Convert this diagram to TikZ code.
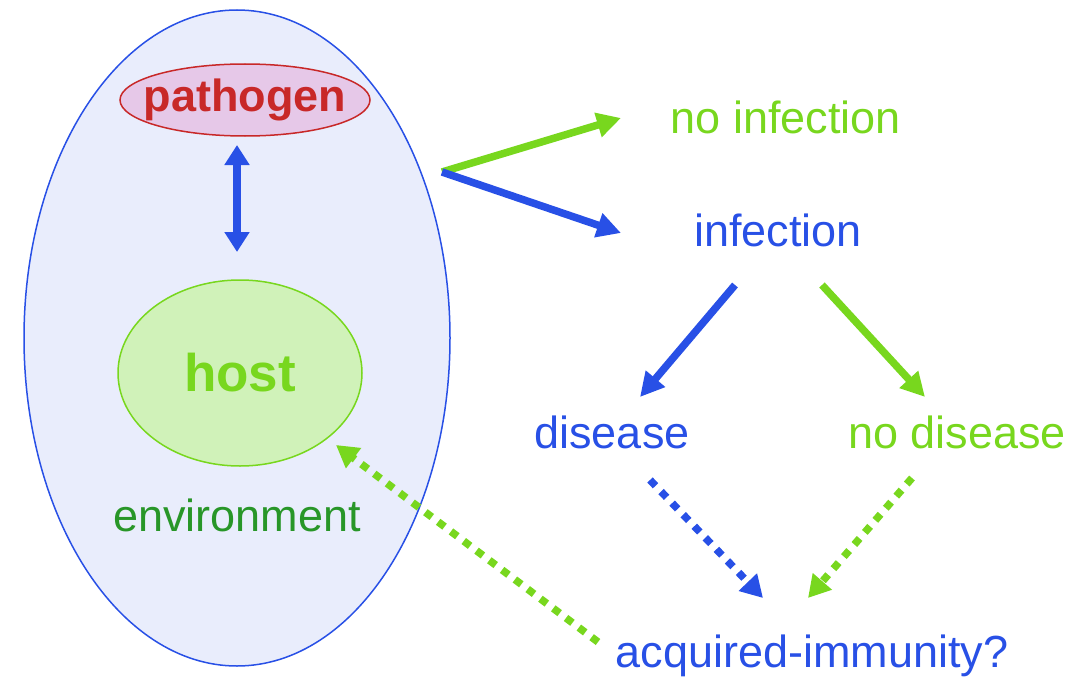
\documentclass[tikz,border=0pt]{standalone}
\usepackage{fontspec}
\setmainfont{Liberation Sans}
\usetikzlibrary{arrows.meta,shapes.geometric}
\definecolor{bl}{RGB}{40,80,230}
\definecolor{gr}{RGB}{120,215,30}
\definecolor{dg}{RGB}{40,150,40}
\definecolor{rd}{RGB}{200,40,40}
\begin{document}
\begin{tikzpicture}[x=1pt,y=-1pt,
  lbl/.style={font=\fontsize{45}{48}\selectfont},
  arr/.style={line width=7.5pt,-{Triangle[length=24pt,width=24pt]}},
  dot/.style={line width=7.5pt,dash pattern=on 8pt off 8pt,-{Triangle[length=22pt,width=24pt]}}]
\useasboundingbox (0,0) rectangle (1077,677);
\node[draw=bl,line width=1.5pt,fill=bl!10,ellipse,minimum width=426,minimum height=656,inner sep=0] (env) at (237,338) {};
\node[draw=rd,line width=1.5pt,fill={rgb,255:red,230;green,200;blue,232},ellipse,minimum width=250,minimum height=72,inner sep=0] (pat) at (245,100) {};
\node[text=rd,font=\fontsize{45}{48}\selectfont\bfseries] (patl) at (pat) {pathogen};
\node[draw=gr,line width=1.5pt,fill={rgb,255:red,208;green,242;blue,185},ellipse,minimum width=244,minimum height=186,inner sep=0] (host) at (240,373) {};
\node[text=gr,font=\fontsize{53}{56}\selectfont\bfseries] (hostl) at (host) {host};
\node[lbl,text=dg] (envl) at (237,515) {environment};
\coordinate (a1) at (237,145); \coordinate (a2) at (237,252);
\draw[line width=7.5pt,{Triangle[length=20pt,width=24pt]}-{Triangle[length=20pt,width=24pt]},bl] (a1) -- (a2);
\node[lbl,text=gr] (noinf) at (786,117) {no infection};
\node[lbl,text=bl] (inf) at (778,230) {infection};
\node[lbl,text=bl] (dis) at (612,432) {disease};
\node[lbl,text=gr] (nodis) at (957,432) {no disease};
\node[lbl,text=bl] (acq) at (812,656) {acquired-immunity?};
\coordinate (s) at (442,172);
\draw[arr,gr] (s) -- (621,118);
\draw[arr,bl] (s) -- (621,233);
\coordinate (i1) at (735,285); \coordinate (i2) at (822,285);
\draw[arr,bl] (i1) -- (640,397);
\draw[arr,gr] (i2) -- (925,397);
\coordinate (d1) at (650,480); \coordinate (d2) at (912,478);
\draw[dot,bl] (d1) -- (763,598);
\draw[dot,gr] (d2) -- (808,598);
\coordinate (q) at (598,642);
\draw[dot,gr] (q) -- (336,445);
\end{tikzpicture}
\end{document}
